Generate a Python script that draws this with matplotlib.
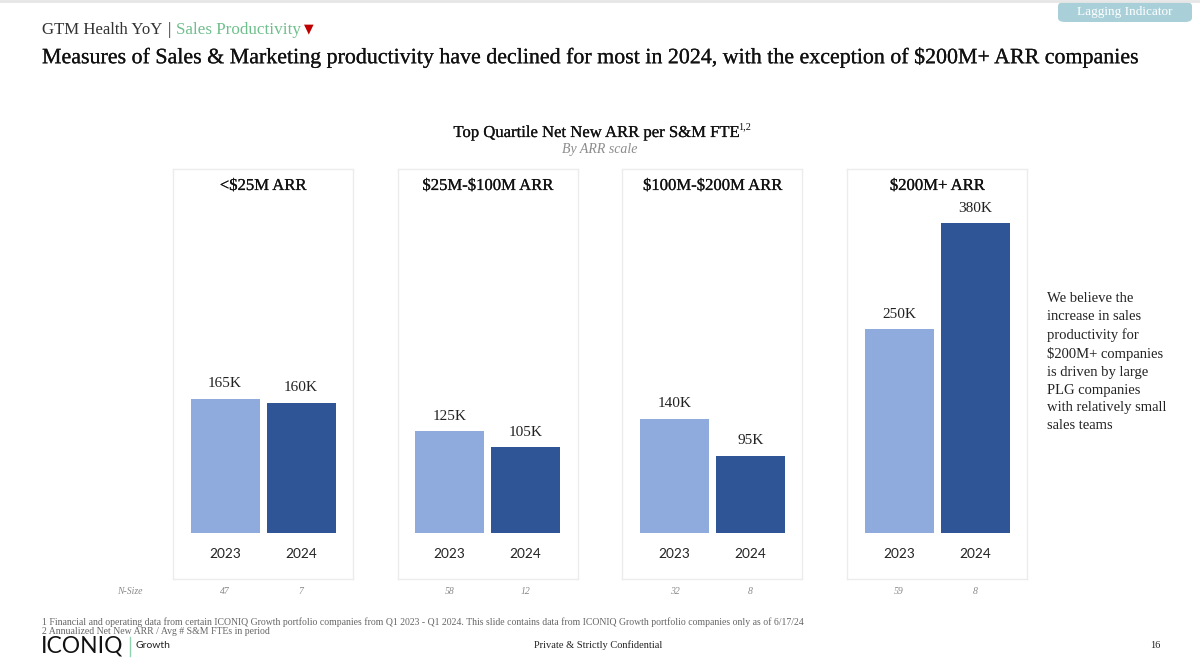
import matplotlib.pyplot as plt
import matplotlib.patheffects as pe
from matplotlib.patches import FancyBboxPatch

# data
segments = [r'<\$25M ARR', r'\$25M-\$100M ARR', r'\$100M-\$200M ARR', r'\$200M+ ARR']
years = ['2023', '2024']
vals_2023 = [165, 125, 140, 250]
vals_2024 = [160, 105, 95, 380]
nsize_2023 = [47, 58, 32, 59]
nsize_2024 = [7, 12, 8, 8]

c_light = '#8faadc'
c_dark = '#2f5597'
serif = ['Liberation Serif', 'DejaVu Serif']
sans = ['Lato', 'DejaVu Sans']
heavy = [pe.withStroke(linewidth=0.15, foreground='#111111')]

W, H = 1200, 667
fig = plt.figure(figsize=(12, 6.67), dpi=100)
fig.patch.set_facecolor('white')

def fx(x):
    return x / W

def fy(y):
    return 1 - y / H

# header
fig.text(fx(42), fy(30), 'GTM Health YoY', family=serif, fontsize=12.1,
         color='#333333', va='center', ha='left')
fig.text(fx(169), fy(30), '|', family=serif, fontsize=12.1,
         color='#333333', va='center', ha='center')
fig.text(fx(176), fy(30), 'Sales Productivity', family=serif, fontsize=12.3,
         color='#6fbf8c', va='center', ha='left')
fig.text(fx(304), fy(29), '▼', family=['DejaVu Sans'], fontsize=9,
         color='#c00000', va='center', ha='left')
fig.text(fx(42), fy(58), r'Measures of Sales & Marketing productivity have declined for most in 2024, '
         r'with the exception of \$200M+ ARR companies', family=serif, fontsize=15.8,
         color='#111111', va='center', ha='left', path_effects=heavy)

# lagging indicator tag
tag = FancyBboxPatch((fx(1058), fy(22)), fx(134), 20 / H,
                     boxstyle='round,pad=0,rounding_size=0.006',
                     transform=fig.transFigure, facecolor='#a9cfd8', edgecolor='none')
fig.patches.append(tag)
fig.text(fx(1125), fy(12.5), 'Lagging Indicator', family=serif, fontsize=9.5,
         color='white', va='center', ha='center')

# chart title
fig.text(fx(596), fy(133), 'Top Quartile Net New ARR per S&M FTE', family=serif,
         fontsize=12, color='#111111', va='center', ha='center', path_effects=heavy)
fig.text(fx(738), fy(127), '1,2', family=serif, fontsize=7.5, color='#111111',
         va='center', ha='left')
fig.text(fx(600), fy(150), 'By ARR scale', family=serif, style='italic', fontsize=10,
         color='#8c8c8c', va='center', ha='center')

# panels
px_per_k = 0.815
base_y = 533
top_y, bot_y = 169, 579
panel_w = 180
unit = 76
for i, seg in enumerate(segments):
    left = 173 + i * 224.7
    ax = fig.add_axes([fx(left), fy(bot_y), fx(panel_w), (bot_y - top_y) / H])
    ax.set_xlim(-52 / unit, 1 + 52 / unit)
    ax.set_ylim(-(bot_y - base_y) / px_per_k, (base_y - top_y) / px_per_k)
    vals = [vals_2023[i], vals_2024[i]]
    ax.bar([0, 1], vals, width=69 / unit, color=[c_light, c_dark])
    for x, v in zip([0, 1], vals):
        ax.text(x, v + 15 / px_per_k, f'{v}K', family=serif, fontsize=11,
                color='#222222', ha='center', va='center')
        ax.text(x, -21 / px_per_k, years[x], family=sans, fontsize=9.8,
                color='#222222', ha='center', va='center')
    ax.text(0.5, 1 - 17 / (bot_y - top_y), seg, transform=ax.transAxes, family=serif,
            fontsize=12, color='#111111', ha='center', va='center', path_effects=heavy)
    ax.set_xticks([])
    ax.set_yticks([])
    for s in ax.spines.values():
        s.set_color('#ececec')
        s.set_linewidth(1)
    # n-size row
    for x, n in zip([52, 128], [nsize_2023[i], nsize_2024[i]]):
        fig.text(fx(left + x), fy(591), str(n), family=serif, style='italic',
                 fontsize=7, color='#888888', ha='center', va='center')

fig.text(fx(130), fy(591), 'N-Size', family=serif, style='italic', fontsize=7,
         color='#888888', ha='center', va='center')

# side note
note = ('We believe the\nincrease in sales\nproductivity for\n\\$200M+ companies\n'
        'is driven by large\nPLG companies\nwith relatively small\nsales teams')
fig.text(fx(1047), fy(292), note, family=serif, fontsize=10.5, color='#222222',
         ha='left', va='top', linespacing=1.48)

# footnotes
fig.text(fx(42), fy(622), '1 Financial and operating data from certain ICONIQ Growth portfolio companies '
         'from Q1 2023 - Q1 2024. This slide contains data from ICONIQ Growth portfolio companies only as of 6/17/24',
         family=serif, fontsize=7, color='#666666', ha='left', va='center')
fig.text(fx(42), fy(632), '2 Annualized Net New ARR / Avg # S&M FTEs in period', family=serif,
         fontsize=7, color='#666666', ha='left', va='center')

# footer
fig.text(fx(41), fy(646), 'ICONIQ', family=sans, fontsize=16.5, color='#111111',
         ha='left', va='center')
fig.add_artist(plt.Line2D([fx(130), fx(130)], [fy(637), fy(656)], color='#8fd3b0',
                          lw=1, transform=fig.transFigure))
fig.text(fx(136), fy(645), 'Growth', family=sans, fontsize=7.5, color='#222222',
         ha='left', va='center')
fig.text(fx(598), fy(645), 'Private & Strictly Confidential', family=serif, fontsize=7.5,
         color='#222222', ha='center', va='center')
fig.text(fx(1155), fy(645), '16', family=serif, fontsize=7.5, color='#222222',
         ha='center', va='center')

# faint top edge
fig.add_artist(plt.Line2D([0, 1], [fy(1), fy(1)], color='#e6e6e6', lw=2,
                          transform=fig.transFigure))

fig.savefig('out.png', dpi=100, facecolor='white')
